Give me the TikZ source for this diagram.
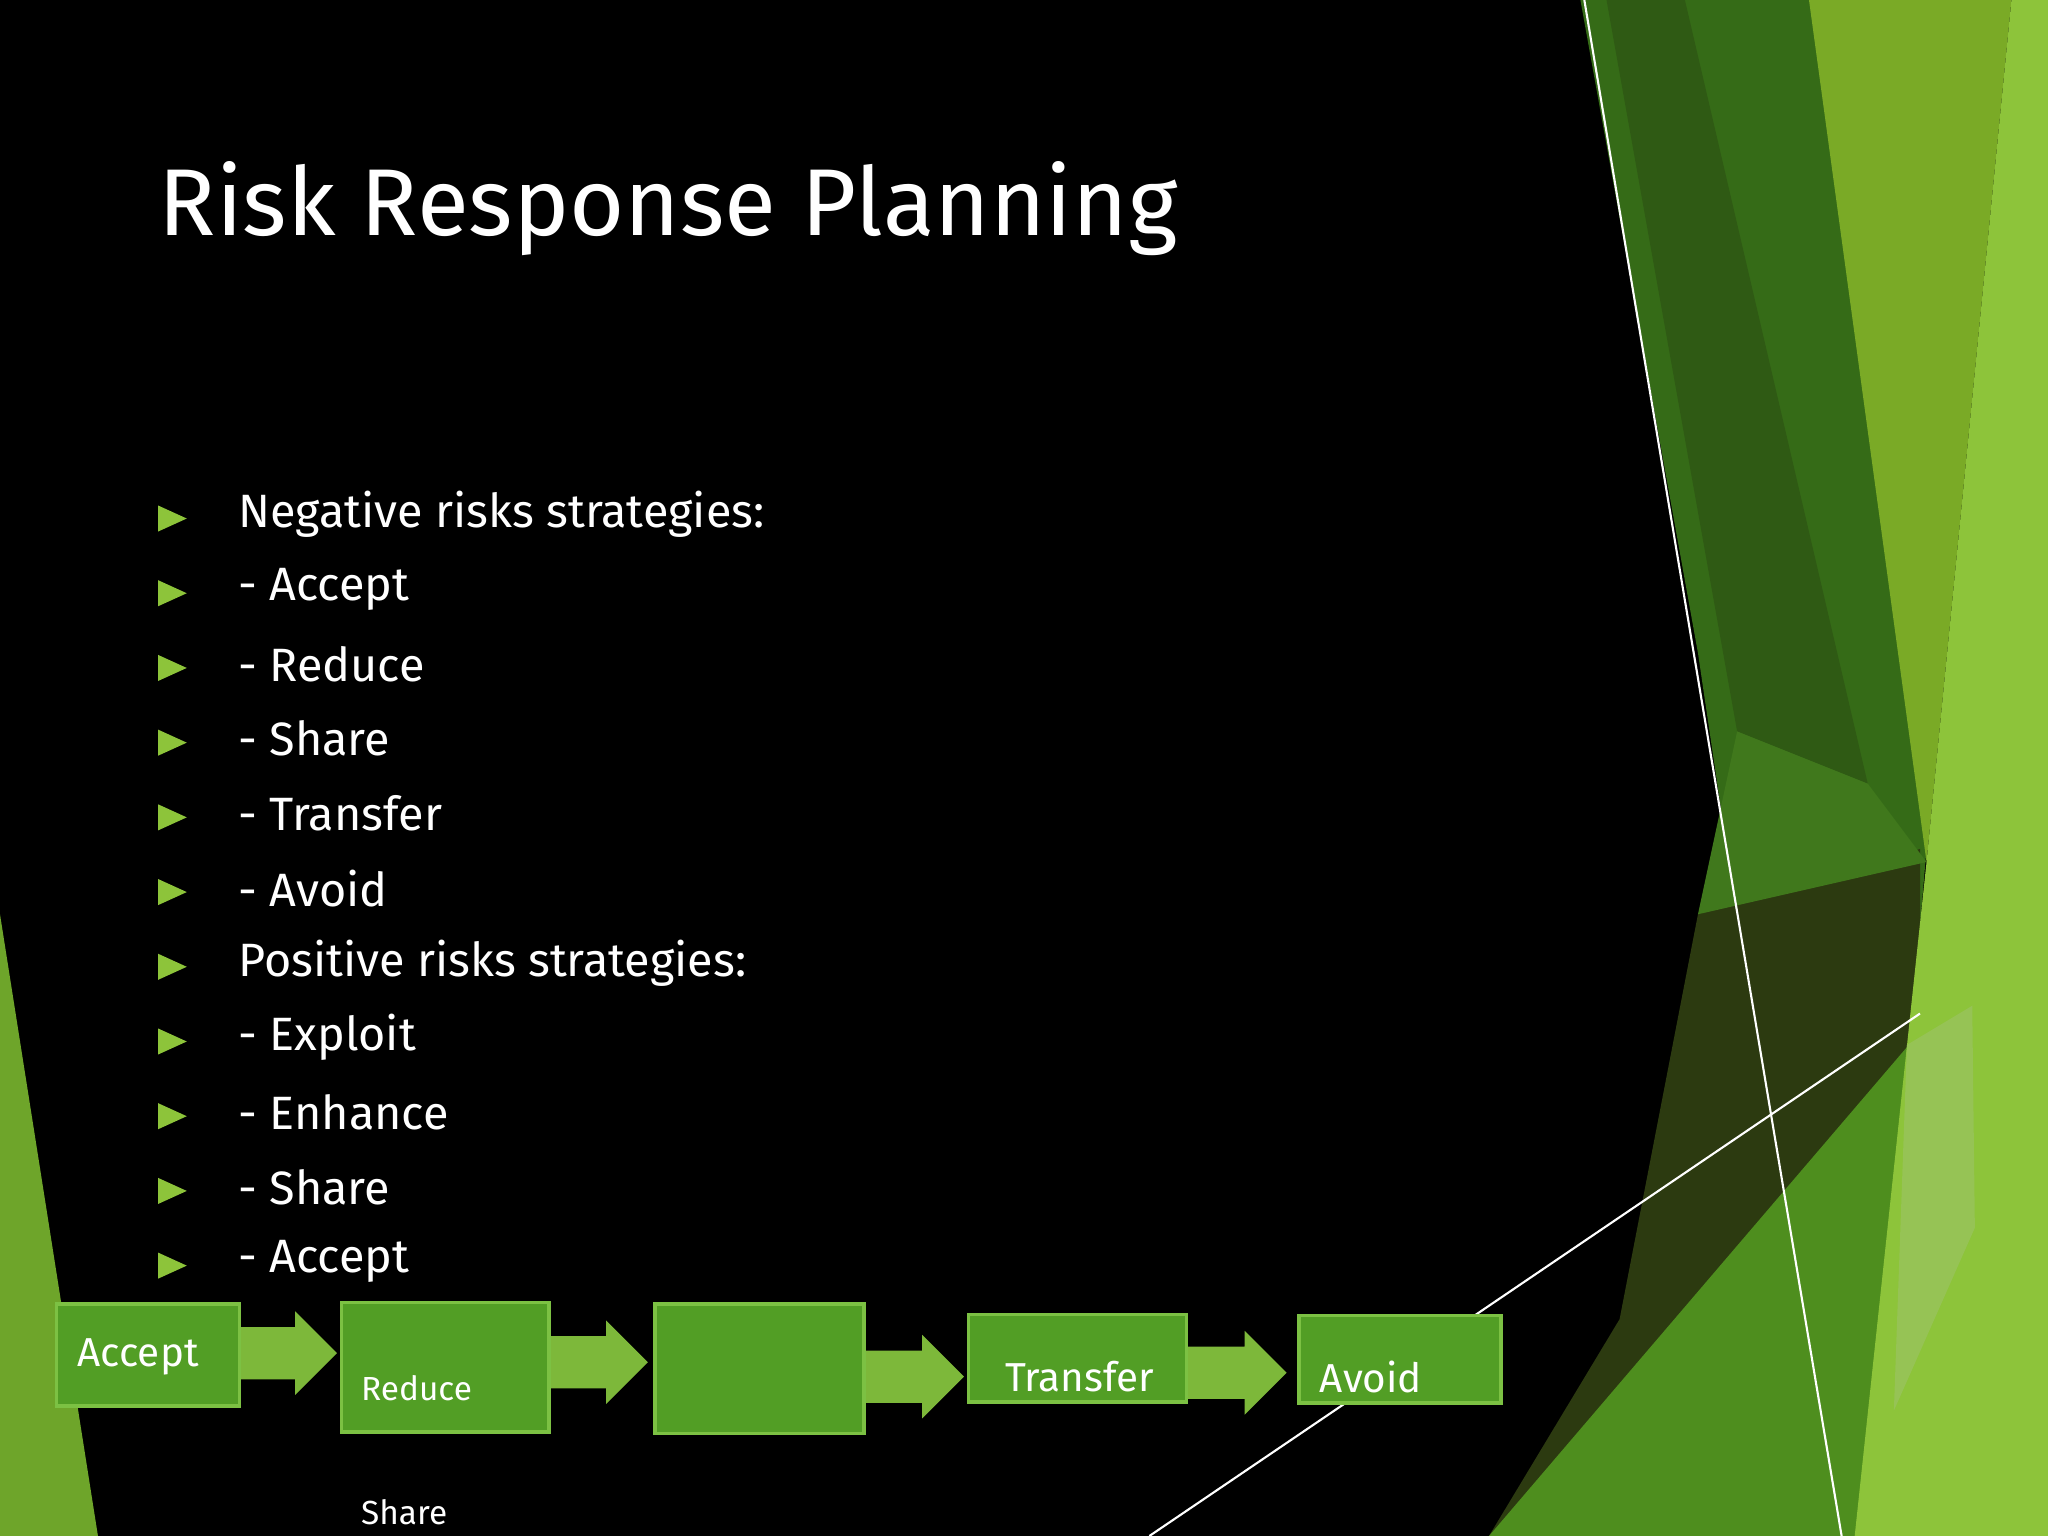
\documentclass[tikz,border=0pt]{standalone}
\usepackage{fontspec}
\setmainfont{Fira Sans}
\definecolor{boxg}{HTML}{529E25}
\definecolor{boxb}{HTML}{7CC143}
\definecolor{bul}{HTML}{8DC43A}
\definecolor{arr}{HTML}{7DB83A}
\tikzset{
  gbox/.style={draw=boxb,line width=1pt,fill=boxg,anchor=north west,inner sep=0pt},
  bl/.style={anchor=west,text=white,inner sep=0pt,font=\fontsize{13.3}{16}\selectfont},
  bt/.style={text=white,anchor=base west,inner sep=0pt}
}
\newcommand{\blkarrow}[3]{% name, start x, center y
  \fill[arr] (#2,#3-20)--(#2+46,#3-20)--(#2+46,#3-32)--(#2+78,#3)--(#2+46,#3+32)--(#2+46,#3+20)--(#2,#3+20)--cycle;
  \coordinate (#1) at (#2+39,#3);
}
\begin{document}
\begin{tikzpicture}[x=0.01306cm,y=-0.01306cm]
\fill[black] (0,0) rectangle (1568,1176);
\useasboundingbox (0,0) rectangle (1568,1176);
% right decoration
\fill[color={rgb,255:red,53;green,107;blue,23}] (1210,0)--(1390,0)--(1475,650)--(1430,1176)--(1400,1176)--(1300,500)--cycle;
\fill[color={rgb,255:red,47;green,90;blue,20}] (1230,0)--(1290,0)--(1430,600)--(1330,560)--cycle;
\fill[color={rgb,255:red,122;green,170;blue,38}] (1385,0)--(1540,0)--(1475,660)--cycle;
\fill[color={rgb,255:red,44;green,58;blue,16}] (1300,700)--(1470,650)--(1470,850)--(1140,1176)--(1240,1010)--cycle;
\fill[color={rgb,255:red,64;green,120;blue,28}] (1330,560)--(1430,600)--(1475,660)--(1300,700)--cycle;
\fill[color={rgb,255:red,78;green,142;blue,30}] (1140,1176)--(1470,790)--(1568,700)--(1568,1176)--cycle;
\fill[color={rgb,255:red,141;green,196;blue,58}] (1540,0)--(1568,0)--(1568,1176)--(1420,1176)--(1475,660)--cycle;
\fill[color={rgb,255:red,150;green,195;blue,85}] (1460,800)--(1510,770)--(1512,940)--(1450,1080)--cycle;
\fill[color={rgb,255:red,110;green,165;blue,42}] (0,700)--(75,1176)--(0,1176)--cycle;
\draw[white,line width=0.6pt] (1213,0)--(1410,1176);
\draw[white,line width=0.6pt] (880,1176)--(1470,776);
% title
\node[anchor=base west,inner sep=0pt,text=white,font=\fontsize{27}{32}\selectfont] (title) at (121,180) {Risk Response Planning};
% bullets
\foreach \t [count=\i] in {Negative risks strategies:,- Accept,- Reduce,- Share,- Transfer,- Avoid,Positive risks strategies:,- Exploit,- Enhance,- Share,- Accept}{
  \pgfmathsetmacro{\yy}{397+57.2*(\i-1)}
  \fill[bul] (121,\yy-10)--(143,\yy)--(121,\yy+10)--cycle;
  \node[bl] (b\i) at (182,\yy-3) {\t};
}
% arrows (drawn beneath boxes)
\blkarrow{a1}{180}{1036}
\blkarrow{a2}{418}{1043}
\blkarrow{a3}{660}{1054}
\blkarrow{a4}{907}{1051}
% boxes
\node[gbox,minimum width=140*0.01306cm,minimum height=78*0.01306cm] (n1) at (42,997) {};
\node[gbox,minimum width=159*0.01306cm,minimum height=99*0.01306cm] (n2) at (260,996) {};
\node[gbox,minimum width=160*0.01306cm,minimum height=99*0.01306cm] (n3) at (500,997) {};
\node[gbox,minimum width=167*0.01306cm,minimum height=67*0.01306cm] (n4) at (740,1005) {};
\node[gbox,minimum width=155*0.01306cm,minimum height=67*0.01306cm] (n5) at (993,1006) {};
\node[bt,font=\fontsize{11.5}{14}\selectfont] (l1) at (59,1046) {Accept};
\node[bt,font=\fontsize{9.5}{12}\selectfont] (l2) at (276,1072) {Reduce};
\node[bt,font=\fontsize{11.5}{14}\selectfont] (l4) at (769,1065) {Transfer};
\node[bt,font=\fontsize{11.5}{14}\selectfont] (l5) at (1010,1066) {Avoid};
\node[bt,font=\fontsize{9.5}{12}\selectfont] (l3) at (276,1167) {Share};
\end{tikzpicture}
\end{document}
